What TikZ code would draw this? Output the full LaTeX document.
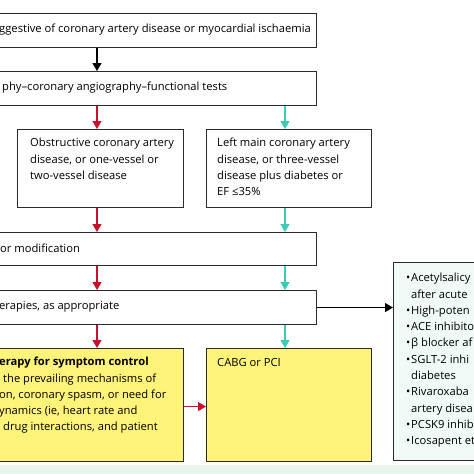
\documentclass[tikz,border=0pt]{standalone}
\usepackage{fontspec}
\setmainfont{Open Sans}
\usetikzlibrary{arrows.meta, positioning, calc}
\definecolor{redarr}{HTML}{C8102E}
\definecolor{tealarr}{HTML}{3CCBB4}
\definecolor{boxyellow}{HTML}{FFF47A}
\definecolor{boxmint}{HTML}{F2FAF8}
\definecolor{stripgreen}{HTML}{E6F6EA}
\definecolor{edge}{HTML}{2B2B2B}
\newcommand{\itm}{\makebox[5pt][l]{\textbullet}}

\begin{document}
\begin{tikzpicture}[x=1pt, y=-1pt,
    stepbox/.style={draw=edge, line width=1.1pt, anchor=north west, inner sep=0pt},
    txt/.style={inner sep=0pt, align=left, font=\fontsize{11.2}{16.3}\selectfont},
    arr/.style={-{Triangle[width=9pt,length=8pt]}, line width=1.2pt}
]
\useasboundingbox (0,0) rectangle (474,474);
\fill[stripgreen] (0,465) rectangle (474,480);

% columns of the two paths
\coordinate (redx) at (97,0);
\coordinate (tealx) at (285,0);

% full width steps
\node[stepbox, minimum width=336pt, minimum height=34pt] (symptoms) at (-20,13) {};
\node[stepbox, minimum width=336pt, minimum height=34pt] (tests) at (-20,71) {};
\node[stepbox, minimum width=336pt, minimum height=33pt] (lifestyle) at (-20,232) {};
\node[stepbox, minimum width=336pt, minimum height=34pt] (prevention) at (-20,290) {};
\node[txt, anchor=west] (symptomstext) at (-1,30) {ggestive of coronary artery disease or myocardial ischaemia};
\node[txt, anchor=west] (teststext) at (2,88) {phy–coronary angiography–functional tests};
\node[txt, anchor=west] (lifestyletext) at (0,248.5) {or modification};
\node[txt, anchor=west] (preventiontext) at (-1,307) {erapies, as appropriate};

% the two branches
\node[stepbox, minimum width=166pt, minimum height=78pt] (obstructive) at (17,129) {};
\node[stepbox, minimum width=165pt, minimum height=78pt] (leftmain) at (206,129) {};
\node[txt, anchor=north west] (obstructivetext) at (30,138) {Obstructive coronary artery\\disease, or one-vessel or\\two-vessel disease};
\node[txt, anchor=north west] (leftmaintext) at (217,138) {Left main coronary artery\\disease, or three-vessel\\disease plus diabetes or\\EF ≤35\%};

% treatments
\node[stepbox, fill=boxyellow, minimum width=203pt, minimum height=113pt] (antianginal) at (-20,348) {};
\node[stepbox, fill=boxyellow, minimum width=165pt, minimum height=113pt] (revasc) at (206,348) {};
\node[txt, anchor=north west] (antianginaltext) at (-1,357) {\textbf{erapy for symptom control}\\\hspace*{4pt}the prevailing mechanisms of\\on, coronary spasm, or need for\\ynamics (ie, heart rate and\\\hspace*{4pt}drug interactions, and patient};
\node[txt, anchor=north west] (revasctext) at (217,358) {CABG or PCI};

% event prevention list
\node[stepbox, fill=boxmint, minimum width=100pt, minimum height=198pt] (drugs) at (393,262) {};
\node[txt, anchor=north west] (drugstext) at (406,273) {\itm Acetylsalicy\\\hspace*{5pt}after acute\\\itm High-poten\\\itm ACE inhibito\\\itm β blocker af\\\itm SGLT-2 inhi\\\hspace*{5pt}diabetes\\\itm Rivaroxaba\\\hspace*{5pt}artery disea\\\itm PCSK9 inhib\\\itm Icosapent et};

\draw[arr] (redx |- symptoms.south) -- (redx |- tests.north);
\draw[arr, redarr] (redx |- tests.south) -- (redx |- obstructive.north);
\draw[arr, redarr] (redx |- obstructive.south) -- (redx |- lifestyle.north);
\draw[arr, redarr] (redx |- lifestyle.south) -- (redx |- prevention.north);
\draw[arr, redarr] (redx |- prevention.south) -- (redx |- antianginal.north);
\draw[arr, tealarr] (tealx |- tests.south) -- (tealx |- leftmain.north);
\draw[arr, tealarr] (tealx |- leftmain.south) -- (tealx |- lifestyle.north);
\draw[arr, tealarr] (tealx |- lifestyle.south) -- (tealx |- prevention.north);
\draw[arr, tealarr] (tealx |- prevention.south) -- (tealx |- revasc.north);
\draw[arr, redarr] ([yshift=-1.5pt]antianginal.east) -- ([yshift=-1.5pt]revasc.west);
\draw[arr] (prevention.east) -- (prevention.east -| drugs.west);
\end{tikzpicture}
\end{document}
